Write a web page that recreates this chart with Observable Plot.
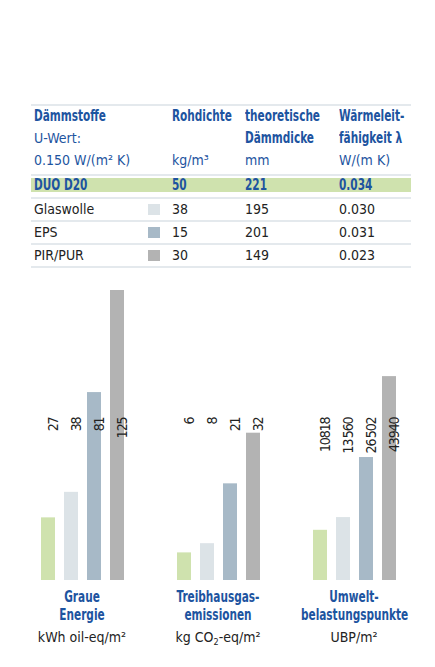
<!DOCTYPE html>
<html>
<head>
<meta charset="utf-8">
<script src="https://cdn.jsdelivr.net/npm/d3@7"></script>
<script src="https://cdn.jsdelivr.net/npm/@observablehq/plot@0.6"></script>
<style>
  html, body { margin: 0; padding: 0; background: #fff; }
  body { width: 435px; height: 667px; position: relative; overflow: hidden;
         font-family: "DejaVu Sans Condensed", "Liberation Sans Narrow", "Liberation Sans", sans-serif;
         font-stretch: condensed; color: #222; }
  .t { position: absolute; white-space: nowrap; line-height: 20px; height: 20px; }
  .blue { color: #1d54a0; }
  .b { font-weight: bold; font-size: 15px; display: inline-block; transform: scaleX(0.78); transform-origin: left center; }
  .bc { font-weight: bold; font-size: 15px; transform: scaleX(0.78); transform-origin: center; }
  .line { position: absolute; left: 31px; width: 380px; height: 2px; background: #e4e9ed; }
  .chart { position: absolute; top: 280px; }
  .ctitle { position: absolute; width: 136px; text-align: center; white-space: nowrap; }
  sub { font-size: 9px; vertical-align: -3px; line-height: 0; }
  .chart svg text { letter-spacing: -1.1px; }
</style>
</head>
<body>
<script>
// ---- data ----
const materials = ["DUO D20", "Glaswolle", "EPS", "PIR/PUR"];
const rohdichte = ["50", "38", "15", "30"];
const daemmdicke = ["221", "195", "201", "149"];
const waermeleit = ["0.034", "0.030", "0.031", "0.023"];
const materialColors = ["#cfe2ae", "#dce3e7", "#a7b9c7", "#b3b3b3"];

const headerLines = [
  ["Dämmstoffe", "Rohdichte", "theoretische", "Wärmeleit-"],
  ["U-Wert:", "", "Dämmdicke", "fähigkeit λ"],
  ["0.150 W/(m² K)", "kg/m³", "mm", "W/(m K)"]
];

const graueEnergie = [27, 38, 81, 125];
const treibhausgas = [6, 8, 21, 32];
const umweltbelastung = [10818, 13560, 26502, 43940];
const umweltLabels = ["10818", "13\u2009560", "26\u2009502", "43940"];

const chartValues = [graueEnergie, treibhausgas, umweltbelastung];
const chartLabels = [graueEnergie.map(String), treibhausgas.map(String), umweltLabels];
const chartYMax = [125, 63, 62500];
const chartTitles = [["Graue", "Energie"], ["Treibhausgas-", "emissionen"], ["Umwelt-", "belastungspunkte"]];
const chartUnits = ["kWh oil-eq/m²", "kg CO<sub>2</sub>-eq/m²", "UBP/m²"];

// ---- table ----
const body = document.body;
function txt(s, x, yc, bold, blue, size) {
  const d = document.createElement("div");
  d.className = "t" + (blue ? " blue" : "");
  d.style.left = x + "px";
  d.style.top = (yc - 10) + "px";
  d.style.fontSize = (size || 14) + "px";
  d.innerHTML = bold ? `<span class="b">${s}</span>` : s;
  body.appendChild(d);
  return d;
}
function hline(y) {
  const d = document.createElement("div");
  d.className = "line";
  d.style.top = y + "px";
  body.appendChild(d);
}
const colX = [34, 172, 245, 339];
const headerY = [116, 138, 160];
hline(104);
headerLines.forEach((row, i) => {
  row.forEach((s, j) => {
    if (!s) return;
    const bold = (i === 0) || (j >= 2 && i === 1);
    txt(s, colX[j], headerY[i], bold, true, 14);
  });
});
hline(174);
const hl = document.createElement("div");
hl.style.cssText = "position:absolute;left:31px;width:380px;top:178px;height:14px;background:" + materialColors[0];
body.appendChild(hl);
const rowY = [185, 209, 232, 255];
const lineY = [197, 220, 243, 266];
materials.forEach((m, i) => {
  const first = i === 0;
  txt(m, colX[0], rowY[i], first, first, 14);
  txt(rohdichte[i], colX[1], rowY[i], first, first, 14);
  txt(daemmdicke[i], colX[2], rowY[i], first, first, 14);
  txt(waermeleit[i], colX[3], rowY[i], first, first, 14);
  if (i > 0) {
    const sw = document.createElement("div");
    sw.style.cssText = `position:absolute;left:148px;top:${rowY[i] - 5}px;width:12px;height:11px;background:${materialColors[i]}`;
    body.appendChild(sw);
  }
  hline(lineY[i]);
});

// ---- bar charts ----
chartValues.forEach((vals, c) => {
  const data = materials.map((m, i) => ({ material: m, value: vals[i], label: chartLabels[c][i] }));
  const plot = Plot.plot({
    width: 136,
    height: 301,
    marginTop: 10,
    marginBottom: 1,
    marginLeft: 26,
    marginRight: 26,
    x: { domain: materials, paddingInner: 0.4, paddingOuter: 0, axis: null },
    y: { domain: [0, chartYMax[c]], axis: null },
    color: { domain: materials, range: materialColors },
    style: { fontFamily: "DejaVu Sans Condensed, sans-serif", background: "transparent" },
    marks: [
      Plot.barY(data, { x: "material", y: "value", fill: "material" }),
      Plot.text(data, {
        x: "material", text: "label", frameAnchor: "top", dy: 127,
        rotate: -90, textAnchor: "end", fontSize: 14, fill: "#222"
      })
    ]
  });
  const wrap = document.createElement("div");
  wrap.className = "chart";
  wrap.style.left = (14 + 136 * c) + "px";
  wrap.appendChild(plot);
  body.appendChild(wrap);

  const t = document.createElement("div");
  t.className = "ctitle";
  t.style.left = (14 + 136 * c) + "px";
  t.style.top = "588px";
  t.innerHTML = `<div class="blue bc" style="line-height:18px">${chartTitles[c][0]}</div>` +
                `<div class="blue bc" style="line-height:18px">${chartTitles[c][1]}</div>` +
                `<div style="font-size:14px;line-height:22px;margin-top:2px">${chartUnits[c]}</div>`;
  body.appendChild(t);
});
</script>
</body>
</html>
